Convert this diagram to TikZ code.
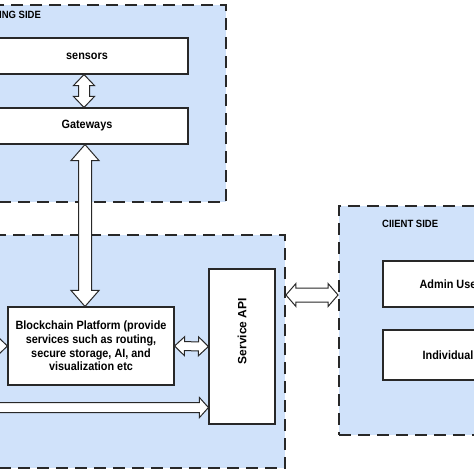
\documentclass[tikz,border=0pt]{standalone}
\usepackage{fontspec}
\setmainfont{Liberation Sans}[FakeStretch=0.905]
\newfontfamily\apifont{Liberation Sans}
\usepackage{tikz}
\usetikzlibrary{calc}
\definecolor{sideblue}{RGB}{208,226,250}
\definecolor{edge}{RGB}{40,40,40}
\tikzstyle{panel}=[draw=edge,fill=sideblue,dash pattern=on 12pt off 7pt,line width=1.9pt,inner sep=0pt]
\tikzstyle{block}=[draw=edge,fill=white,line width=1.1pt,inner sep=2pt,align=center,font=\fontsize{12}{13.7}\selectfont\bfseries]
\tikzstyle{sidelabel}=[anchor=west,inner sep=0pt,font=\fontsize{10.5}{12}\selectfont\bfseries]
\tikzset{
  fat/.style={draw=edge,fill=white,line width=1pt,line join=miter},
  shaft/.store in=\fatshaft, head/.store in=\fathead, tip/.store in=\fattip,
  shaft=5pt, head=10pt, tip=10pt,
  fat single/.style={fat,to path={
    -- ($(\tikztostart)!\fatshaft!90:(\tikztotarget)$)
    -- ($(\tikztotarget)!\fattip!(\tikztostart)!\fatshaft!90:(\tikztotarget)$)
    -- ($(\tikztotarget)!\fattip!(\tikztostart)!\fathead!90:(\tikztotarget)$)
    -- (\tikztotarget)
    -- ($(\tikztotarget)!\fattip!(\tikztostart)!\fathead!-90:(\tikztotarget)$)
    -- ($(\tikztotarget)!\fattip!(\tikztostart)!\fatshaft!-90:(\tikztotarget)$)
    -- ($(\tikztostart)!\fatshaft!-90:(\tikztotarget)$)
    -- cycle}},
  fat double/.style={fat,to path={
    -- ($(\tikztostart)!\fattip!(\tikztotarget)!\fathead!90:(\tikztotarget)$)
    -- ($(\tikztostart)!\fattip!(\tikztotarget)!\fatshaft!90:(\tikztotarget)$)
    -- ($(\tikztotarget)!\fattip!(\tikztostart)!\fatshaft!90:(\tikztotarget)$)
    -- ($(\tikztotarget)!\fattip!(\tikztostart)!\fathead!90:(\tikztotarget)$)
    -- (\tikztotarget)
    -- ($(\tikztotarget)!\fattip!(\tikztostart)!\fathead!-90:(\tikztotarget)$)
    -- ($(\tikztotarget)!\fattip!(\tikztostart)!\fatshaft!-90:(\tikztotarget)$)
    -- ($(\tikztostart)!\fattip!(\tikztotarget)!\fatshaft!-90:(\tikztotarget)$)
    -- ($(\tikztostart)!\fattip!(\tikztotarget)!\fathead!-90:(\tikztotarget)$)
    -- cycle}}
}
\begin{document}
\begin{tikzpicture}[x=1pt,y=-1pt]
\useasboundingbox (0,0) rectangle (474,474);
\clip (0,0) rectangle (474,474);

% the three sides
\node [panel,minimum width=246pt,minimum height=197pt] (senseside) at (103,103.5) {};
\node [panel,minimum width=305pt,minimum height=233pt] (lowside) at (132.5,351.5) {};
\node [panel,minimum width=181pt,minimum height=229pt] (clientside) at (429.5,320.5) {};
\node [sidelabel] (senselbl) at (-1,15) {ING SIDE};
\node [sidelabel] (clientlbl) at (382,224) {CIIENT SIDE};

\node [block,minimum width=202pt,minimum height=36pt] (sensors) at (87,56) {sensors};
\node [block,minimum width=202pt,minimum height=36pt] (gateways) at (87,126) {Gateways};
\node [block,minimum width=166pt,minimum height=78pt] (bc) at (91,346)
  {Blockchain Platform (provide\\services such as routing,\\secure storage, AI, and\\visualization etc};
\node [block,minimum width=66pt,minimum height=155pt] (svc) at (242,346.5) {};
\node [rotate=90,inner sep=0pt,font=\apifont\fontsize{12}{14}\selectfont\bfseries] (apilbl) at ([yshift=15.5pt]svc.center) {Service API};
\node [block,minimum width=130pt,minimum height=46pt] (admin) at (448,284) {Admin Use};
\node [block,minimum width=130pt,minimum height=50pt] (indiv) at (448,355) {Individual};

\coordinate (s1) at ([xshift=-3pt]sensors.south);
\coordinate (g1) at ([xshift=-3pt]gateways.north);
\coordinate (g2) at ([xshift=-2pt]gateways.south);
\coordinate (b1) at ([xshift=-6pt]bc.north);
\coordinate (in) at ([xshift=-50pt]bc.west);
\coordinate (svcin) at ([yshift=17pt]svc.south west);
\coordinate (from) at ([xshift=-260pt]svcin);
\coordinate (p1) at (lowside.east |- 0,295);
\coordinate (p2) at (clientside.west |- p1);

\draw[fat double,shaft=5.5pt,head=10.5pt,tip=11pt] (s1) to (g1);
\draw[fat double,shaft=6.5pt,head=14pt,tip=16pt] (g2) to (b1);
\draw[fat single,shaft=4.5pt,head=9.5pt,tip=10pt] (in) to (bc.west);
\draw[fat double,shaft=4.5pt,head=9.5pt,tip=10pt] (bc.east) to (svc.west);
\draw[fat single,shaft=5pt,head=10pt,tip=9pt] (from) to (svcin);
\draw[fat double,shaft=7pt,head=11.5pt,tip=10pt] (p1) to (p2);
\end{tikzpicture}
\end{document}
